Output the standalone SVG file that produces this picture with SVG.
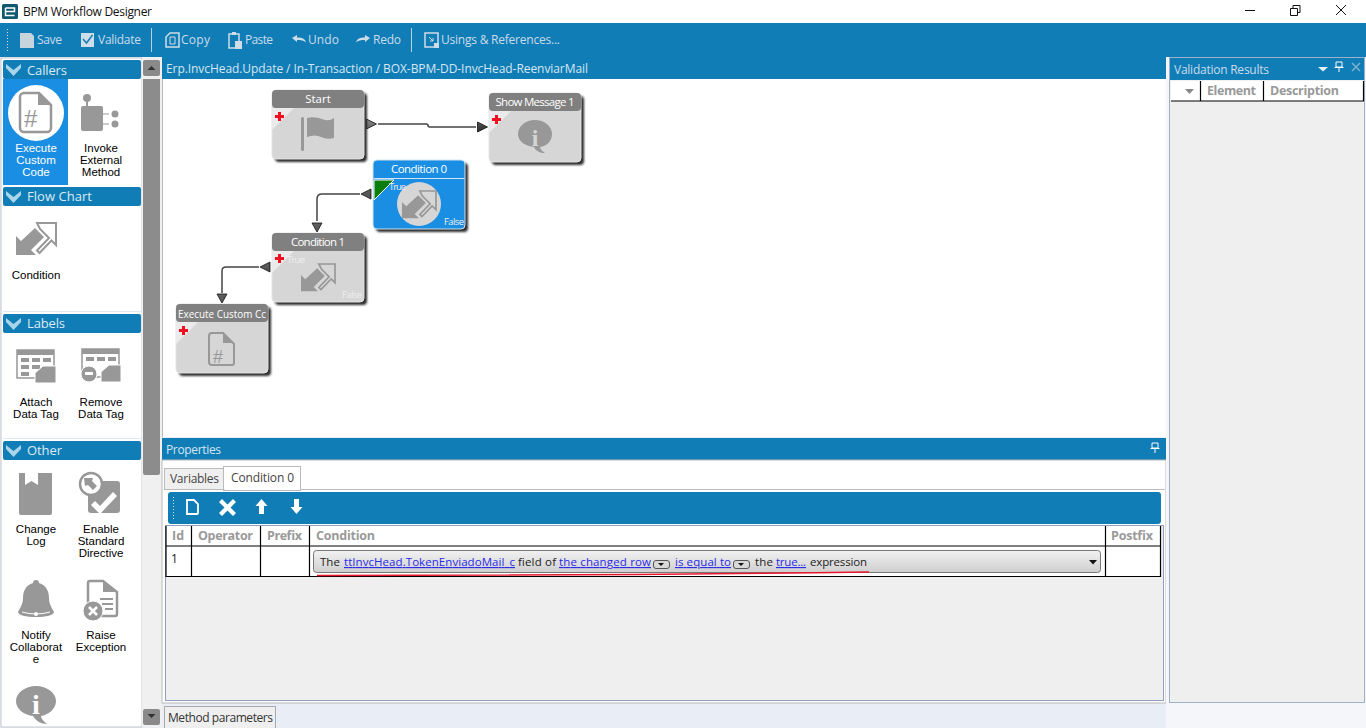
<svg xmlns="http://www.w3.org/2000/svg" width="1366" height="728" viewBox="0 0 1366 728">
<style>
text{font-family:"Open Sans","Noto Sans","Liberation Sans",sans-serif;font-size:12px}
.tb{fill:#c9dcec}
.pal{font-family:"Liberation Sans",Arial,sans-serif;fill:#000;text-anchor:middle;font-size:11.5px}
.sec{fill:#dcebf5;font-size:13px}
.ic{fill:#989898}
.body{fill:#d6d6d6;stroke:#e4e4e4;stroke-width:1}
.shadow{fill:#2e2e2e;filter:url(#soft)}
.hdr{fill:#808080}
.title{fill:#fff;text-anchor:middle;font-size:11.5px}
.tr{fill:#efefef;font-size:9.5px}
.plus{fill:#f01020}
.cut{fill:#ebebeb}
.wire{fill:none;stroke:#444;stroke-width:1.5}
.ah{fill:url(#ahg);stroke:#111;stroke-width:.8}
.gh{fill:#999;font-weight:700;font-size:12.5px}
.gl{stroke:#000;stroke-width:1.2}
.lnk{fill:#2a2ae8;text-decoration:underline;font-size:11.5px}
.blk{fill:#222;font-size:11.5px}
.dd{fill:#d8d8d8;stroke:#555;stroke-width:1}
.hash{font-family:"Liberation Sans",sans-serif;fill:#989898}
.info{font-family:"Liberation Serif",serif;font-weight:700;text-anchor:middle}
</style>
<defs>
<linearGradient id="cmb" x1="0" y1="0" x2="0" y2="1"><stop offset="0" stop-color="#f2f2f2"/><stop offset="1" stop-color="#cfcfcf"/></linearGradient>
<linearGradient id="ahg" x1="0" y1="0" x2="1" y2="1"><stop offset="0" stop-color="#8a8a8a"/><stop offset="1" stop-color="#2a2a2a"/></linearGradient>
<filter id="soft" x="-10%" y="-10%" width="120%" height="120%"><feGaussianBlur stdDeviation="0.8"/></filter>
<g id="cond">
<path d="M0 32v-19l5 5 14-13 9 9-13 13 5 5z" fill="#989898"/>
<path d="M21 0h19v22l-4.500-4.500-12 12.500-2.500-2.500 12-12.500-9-9z" fill="none" stroke="#989898" stroke-width="2"/>
</g>
</defs>
<rect width="1366" height="728" fill="#e9edf6"/>
<g id="titlebar">
<rect width="1366" height="23" fill="#fff"/>
<rect x="2" y="4" width="16" height="15" rx="1.5" fill="#0f5a70"/>
<path d="M5.500 8h9v3.500h-9M5.500 8v7.500h9" fill="none" stroke="#fff" stroke-width="1.500"/>
<text x="23" y="16" fill="#111" textLength="129">BPM Workflow Designer</text>
<path d="M1245 10.500h10" stroke="#111"/>
<path d="M1290.500 8.500h7v7h-7zM1293 8v-2.500h7v7h-2.500" fill="none" stroke="#111"/>
<path d="M1336 5l10 10M1346 5l-10 10" stroke="#111"/>
</g>
<g id="toolbar">
<rect y="23" width="1366" height="34" fill="#117db6"/>
<path d="M7.500 29v22" stroke="#d8e8f2" stroke-dasharray="1 2"/>
<path d="M20 33h11l3 3v12h-14z" fill="#c8d4dc"/>
<rect x="81" y="33" width="13" height="14" fill="#cfdde8"/><path d="M83 39l3.500 4 6-8" fill="none" stroke="#117db6" stroke-width="1.500"/>
<path d="M170 33h9v14h-13v-10z" fill="none" stroke="#cfdde8" stroke-width="1.500"/><path d="M170 37h5v7h-5z" fill="none" stroke="#cfdde8"/>
<path d="M229 34h10v14h-10z" fill="none" stroke="#cfdde8" stroke-width="1.500"/><rect x="235" y="41" width="7" height="8" fill="#cfdde8"/><rect x="232" y="32" width="4" height="3" fill="#cfdde8"/>
<path d="M292 38l5-3v2.500c5 0 8 1 9 5-2-2-5-2.500-9-2.500v2z" fill="#cfdde8"/>
<path d="M370 38l-5-3v2.500c-5 0-8 1-9 5 2-2 5-2.500 9-2.500v2z" fill="#cfdde8"/>
<rect x="425" y="33" width="13" height="14" fill="none" stroke="#cfdde8" stroke-width="1.500"/><rect x="434" y="43" width="5" height="5" fill="#cfdde8"/><path d="M429 37l4 4M433 38v3h-3" stroke="#cfdde8" fill="none"/>
<path d="M151.500 28v24M411.500 28v24" stroke="#b5d2e5"/>
<text class="tb" x="37" y="44" textLength="25">Save</text>
<text class="tb" x="98" y="44" textLength="43">Validate</text>
<text class="tb" x="181" y="44" textLength="29">Copy</text>
<text class="tb" x="245" y="44" textLength="28">Paste</text>
<text class="tb" x="308" y="44" textLength="31">Undo</text>
<text class="tb" x="373" y="44" textLength="28">Redo</text>
<text class="tb" x="441" y="44" textLength="119">Usings &amp; References...</text>
</g>
<g id="palette">
<rect x="1" y="58" width="141" height="669" fill="#fff" stroke="#c4c8d0"/>
<rect x="142" y="58" width="20" height="669" fill="#f0f0f0"/>
<rect x="143" y="60" width="17" height="16" rx="2" fill="#8a8a8a"/><path d="M147.500 70l4-4 4 4z" fill="#333"/>
<rect x="143" y="77" width="17" height="398" rx="2" fill="#8c8c8c"/>
<rect x="143" y="709" width="17" height="16" rx="2" fill="#8a8a8a"/><path d="M147.500 714l4 4 4-4z" fill="#333"/>
<path d="M3 311.500h138M3 438.500h138" stroke="#dde8f0"/>
<rect x="3" y="60" width="138" height="19" rx="2" fill="#117db6"/>
<rect x="3" y="187" width="138" height="19" rx="2" fill="#117db6"/>
<rect x="3" y="314" width="138" height="19" rx="2" fill="#117db6"/>
<rect x="3" y="441" width="138" height="19" rx="2" fill="#117db6"/>
<path d="M6 64l7.500 6 7.500-6v4l-7.500 8-7.500-8z" fill="#a8d4ec"/>
<path d="M6 191l7.500 6 7.500-6v4l-7.500 8-7.500-8z" fill="#a8d4ec"/>
<path d="M6 318l7.500 6 7.500-6v4l-7.500 8-7.500-8z" fill="#a8d4ec"/>
<path d="M6 445l7.500 6 7.500-6v4l-7.500 8-7.500-8z" fill="#a8d4ec"/>
<text class="sec" x="27" y="75" textLength="40">Callers</text>
<text class="sec" x="27" y="201" textLength="65">Flow Chart</text>
<text class="sec" x="27" y="328" textLength="38">Labels</text>
<text class="sec" x="27" y="455" textLength="35">Other</text>
<rect x="3" y="79" width="65" height="106" fill="#1a8ee2"/>
<circle cx="36" cy="113" r="28" fill="#fff"/>
<path d="M24 93h15l12 12v23a4 4 0 0 1-4 4h-23a4 4 0 0 1-4-4v-31a4 4 0 0 1 4-4z" fill="none" stroke="#989898" stroke-width="2.500"/>
<path d="M38 92l13 13h-13z" fill="#989898"/>
<text class="hash" x="24" y="127" style="font-size:24px">#</text>
<text class="pal" style="fill:#fff" x="36" y="152">Execute</text>
<text class="pal" style="fill:#fff" x="36" y="164">Custom</text>
<text class="pal" style="fill:#fff" x="36" y="176">Code</text>
<circle cx="87" cy="98" r="4" class="ic"/><rect x="86" y="100" width="2" height="7" class="ic"/>
<rect x="81" y="106" width="22" height="25" rx="2" class="ic"/>
<path d="M103 114h6M103 124h6" stroke="#989898"/><circle cx="115" cy="114" r="3.500" class="ic"/><circle cx="115" cy="124" r="3.500" class="ic"/>
<text class="pal" x="101" y="152">Invoke</text><text class="pal" x="101" y="164">External</text><text class="pal" x="101" y="176">Method</text>
<use href="#cond" x="16" y="223"/>
<text class="pal" x="36" y="279">Condition</text>
<path d="M17 350h37v5h-37z" class="ic"/><path d="M17 350h37v28h-37z" fill="none" stroke="#989898" stroke-width="1.500"/>
<path d="M21 358h8v4h-8zM32 358h8v4h-8zM43 358h8v4h-8zM21 365h8v4h-8zM32 365h8v4h-8zM21 372h8v4h-8z" class="ic"/>
<path d="M35 383v-10l8-7h13v17z" class="ic" stroke="#fff"/>
<text class="pal" x="36" y="406">Attach</text><text class="pal" x="36" y="418">Data Tag</text>
<path d="M82 349h37v5h-37z" class="ic"/><path d="M82 349h37v28h-37z" fill="none" stroke="#989898" stroke-width="1.500"/>
<path d="M86 357h8v4h-8zM97 357h8v4h-8zM108 357h8v4h-8z" class="ic"/>
<path d="M101 382v-10l8-7h12v17z" class="ic" stroke="#fff"/>
<circle cx="89" cy="374" r="8" class="ic" stroke="#fff"/><rect x="85" y="372" width="8" height="3" fill="#fff"/>
<text class="pal" x="101" y="406">Remove</text><text class="pal" x="101" y="418">Data Tag</text>
<path d="M19 473h33v40a2 2 0 0 1-2 2h-29a2 2 0 0 1-2-2z" class="ic"/><path d="M25 473h13v12l-6.500-4-6.500 4z" fill="#fff"/>
<text class="pal" x="36" y="533">Change</text><text class="pal" x="36" y="545">Log</text>
<rect x="88" y="481" width="32" height="32" rx="3" class="ic"/>
<circle cx="91" cy="484" r="11" fill="#fff" stroke="#989898" stroke-width="2.500"/><path d="M84 478h9l-1 3 5 5-4 4-5-5-3 1z" class="ic"/>
<path d="M95 501l5 5 13-14 4 4-17 18-9-9z" fill="#fff"/>
<text class="pal" x="101" y="533">Enable</text><text class="pal" x="101" y="545">Standard</text><text class="pal" x="101" y="557">Directive</text>
<path d="M36 580c2 0 3 1 3 3 7 2 10 8 10 15 0 6 3 10 5 14 0 3-8 5-18 5s-18-2-18-5c2-4 5-8 5-14 0-7 3-13 10-15 0-2 1-3 3-3z" class="ic"/>
<path d="M22 612q14 4 28 0" stroke="#fff" fill="none"/><circle cx="36" cy="614" r="2" fill="#fff"/>
<text class="pal" x="36" y="639">Notify</text><text class="pal" x="36" y="651">Collaborat</text><text class="pal" x="36" y="663">e</text>
<path d="M90 581h13l14 11v22a2 2 0 0 1-2 2h-25a2 2 0 0 1-2-2v-31a2 2 0 0 1 2-2z" fill="none" stroke="#989898" stroke-width="2.500"/>
<path d="M103 580l14 12h-14zM100 598h13v2h-13zM102 603h11v2h-11zM105 608h8v2h-8z" class="ic"/>
<circle cx="93" cy="611" r="10" class="ic" stroke="#fff"/><path d="M89 607l8 8M97 607l-8 8" stroke="#fff" stroke-width="2.500"/>
<text class="pal" x="101" y="639">Raise</text><text class="pal" x="101" y="651">Exception</text>
<path d="M36 686c11 0 20 7 20 15 0 8-8 14-15 15 0 2 2 5 6 8-6 0-11-3-14-8-9-1-17-7-17-15 0-8 9-15 20-15z" class="ic"/>
<text class="info" x="36" y="714" fill="#fff" style="font-size:28px">i</text>
</g>
<g id="canvas">
<rect x="142" y="57" width="1024" height="22" fill="#117db6"/>
<rect x="142" y="57" width="20" height="22" fill="#f0f0f0"/>
<rect x="143" y="60" width="17" height="16" rx="2" fill="#8a8a8a"/><path d="M147.500 70l4-4 4 4z" fill="#333"/>
<text x="166" y="73" fill="#d6e6f2" textLength="422">Erp.InvcHead.Update / In-Transaction / BOX-BPM-DD-InvcHead-ReenviarMail</text>
<rect x="162" y="79" width="1004" height="358" fill="#fff"/>
<path d="M162.500 79v358" stroke="#bbb"/>
</g>
<g id="connectors">
<path class="wire" d="M378 124h48q2 0 2 1.500 0 1.500 2 1.500h46"/>
<path class="ah" d="M366.500 119l10 5-10 5zM477.500 122l10 5-10 5z"/>
<path class="wire" d="M360 194h-38q-5 0-5 5v22"/>
<path class="ah" d="M371 189l-10 5 10 5zM312 223h10l-5 9z"/>
<path class="wire" d="M259 267h-33q-4 0-4 4v22"/>
<path class="ah" d="M270 262l-10 5 10 5zM217 294h10l-5 9z"/>
</g>
<g id="start">
<rect x="275" y="93" width="92" height="69" rx="4" class="shadow"/>
<rect x="272" y="90" width="92" height="69" rx="4" class="body"/>
<path d="M272 94a4 4 0 0 1 4-4h84a4 4 0 0 1 4 4v10a4 4 0 0 1-4 4h-84a4 4 0 0 1-4-4z" class="hdr"/>
<path d="M272 108h22l-22 22z" class="cut"/>
<path d="M278 112h3v3h3v3h-3v3h-3v-3h-3v-3h3z" class="plus"/>
<rect x="301" y="117" width="3" height="34" rx="1.500" class="ic"/>
<path d="M307 118q8-2 15 1t12-1v20q-7 2-13-1t-14 0z" class="ic"/>
<text class="title" x="318" y="103">Start</text>
</g>
<g id="show-message-1">
<rect x="492" y="96" width="92" height="69" rx="4" class="shadow"/>
<rect x="489" y="93" width="92" height="69" rx="4" class="body"/>
<path d="M489 97a4 4 0 0 1 4-4h84a4 4 0 0 1 4 4v10a4 4 0 0 1-4 4h-84a4 4 0 0 1-4-4z" class="hdr"/>
<path d="M489 111h22l-22 22z" class="cut"/>
<path d="M495 115h3v3h3v3h-3v3h-3v-3h-3v-3h3z" class="plus"/>
<path d="M535 120c9 0 17 6 17 14s-6 12-12 13c0 2 2 4 5 6-5 0-9-2-11-6-8-1-16-5-16-13s8-14 17-14z" class="ic"/>
<text class="info" x="535" y="146" fill="#d6d6d6" style="font-size:24px">i</text>
<text class="title" x="535" y="106" textLength="79">Show Message 1</text>
</g>
<g id="condition-0">
<rect x="376" y="163" width="92" height="69" rx="4" class="shadow"/>
<rect x="373" y="160" width="92" height="69" rx="4" fill="#1a8ee2" stroke="#cfe3f2"/>
<path d="M373.500 178.500h91" stroke="#cfe3f2"/>
<path d="M374 180h20l-20 20z" fill="#0b7d0b" stroke="#fff"/>
<circle cx="419" cy="204" r="22" fill="#d6d6d6"/>
<use href="#cond" transform="translate(402 191) scale(.85)"/>
<text class="title" x="419" y="173" textLength="56">Condition 0</text>
<text class="tr" x="389" y="190" textLength="17">True</text>
<text class="tr" x="444" y="225" textLength="20">False</text>
</g>
<g id="condition-1">
<rect x="275" y="236" width="92" height="69" rx="4" class="shadow"/>
<rect x="272" y="233" width="92" height="69" rx="4" class="body"/>
<path d="M272 237a4 4 0 0 1 4-4h84a4 4 0 0 1 4 4v10a4 4 0 0 1-4 4h-84a4 4 0 0 1-4-4z" class="hdr"/>
<path d="M272 251h22l-22 22z" class="cut"/>
<path d="M278 254h3v3h3v3h-3v3h-3v-3h-3v-3h3z" class="plus"/>
<use href="#cond" transform="translate(301 264) scale(.85)"/>
<text class="title" x="318" y="246" textLength="54">Condition 1</text>
<text class="tr" x="287" y="263" textLength="18">True</text>
<text class="tr" x="342" y="298" textLength="20">False</text>
</g>
<g id="execute-custom-code">
<rect x="179" y="307" width="92" height="69" rx="4" class="shadow"/>
<rect x="176" y="304" width="92" height="69" rx="4" class="body"/>
<path d="M176 308a4 4 0 0 1 4-4h84a4 4 0 0 1 4 4v10a4 4 0 0 1-4 4h-84a4 4 0 0 1-4-4z" class="hdr"/>
<path d="M176 322h22l-22 22z" class="cut"/>
<path d="M182 326h3v3h3v3h-3v3h-3v-3h-3v-3h3z" class="plus"/>
<path d="M212 333h11l11 11v19a2 2 0 0 1-2 2h-20a3 3 0 0 1-3-3v-26a3 3 0 0 1 3-3z" fill="none" stroke="#989898" stroke-width="2"/>
<path d="M223 332l11 11h-11z" class="ic"/>
<text class="hash" x="213" y="363" style="font-size:18px">#</text>
<text x="178" y="318" fill="#fff" textLength="88" lengthAdjust="spacingAndGlyphs" style="font-size:11.5px">Execute Custom Cc</text>
</g>
<g id="properties">
<rect x="162" y="438" width="1004" height="22" fill="#117db6"/>
<text x="166" y="454" fill="#d6e6f2" textLength="55">Properties</text>
<path d="M1152 443h6v5h-6zM1150.500 448.500h9M1155 449v4" stroke="#fff" fill="none"/>
<rect x="162" y="460" width="1004" height="243" fill="#fff" stroke="#bbb"/>
<rect x="164.500" y="468.500" width="59" height="21" fill="#efefef" stroke="#bbb"/>
<rect x="223.500" y="466.500" width="77" height="24" fill="#fff" stroke="#bbb"/>
<path d="M164.500 489.500h60M300.500 489.500h864" stroke="#bbb"/>
<text x="170" y="483" fill="#444" textLength="49">Variables</text>
<text x="231" y="482" fill="#444" textLength="63">Condition 0</text>
<rect x="168" y="492" width="993" height="32" rx="3" fill="#117db6"/>
<path d="M173.500 497v22" stroke="#d8e8f2" stroke-dasharray="1 2"/>
<path d="M187 500h7l4 4v9a1 1 0 0 1-1 1h-10z" fill="none" stroke="#fff" stroke-width="1.800"/>
<path d="M219 502l3-3 5.500 5.500 5.500-5.500 3 3-5.500 5.500 5.500 5.500-3 3-5.500-5.500-5.500 5.500-3-3 5.500-5.500z" fill="#fff"/>
<path d="M261.500 499l6 7h-3.500v8h-5v-8h-3.500z" fill="#fff"/>
<path d="M294 499h5v8h3.500l-6 7-6-7h3.500z" fill="#fff"/>
<rect x="165.500" y="525.500" width="998" height="175" fill="#efefef" stroke="#8fa2bd"/>
<rect x="166" y="526" width="995" height="51" fill="#fff"/>
<path class="gl" d="M166 546h995M166 576.500h995M191.500 526v51M260.500 526v51M309.500 526v51M1105.500 526v51M1160.500 526v51M166 526v51"/>
<text class="gh" x="172" y="540">Id</text>
<text class="gh" x="198" y="540" textLength="55">Operator</text>
<text class="gh" x="267" y="540" textLength="35">Prefix</text>
<text class="gh" x="316" y="540" textLength="59">Condition</text>
<text class="gh" x="1111" y="540" textLength="42">Postfix</text>
<text x="171" y="563" fill="#222">1</text>
<rect x="313.500" y="550.500" width="787" height="22" rx="3" fill="url(#cmb)" stroke="#777"/>
<text class="blk" x="320" y="566">The</text>
<text class="lnk" x="344" y="566" textLength="171">ttInvcHead.TokenEnviadoMail_c</text>
<text class="blk" x="518" y="566" textLength="38">field of</text>
<text class="lnk" x="559" y="566" textLength="92">the changed row</text>
<rect x="653.500" y="560.500" width="16" height="8" rx="2.500" class="dd"/><path d="M658 563h6l-3 3z" fill="#111"/>
<text class="lnk" x="675" y="566" textLength="56">is equal to</text>
<rect x="733.500" y="560.500" width="16" height="8" rx="2.500" class="dd"/><path d="M738 563h6l-3 3z" fill="#111"/>
<text class="blk" x="755" y="566" textLength="18">the</text>
<text class="lnk" x="776" y="566" textLength="30">true...</text>
<text class="blk" x="810" y="566" textLength="57">expression</text>
<path d="M1089 560h8l-4 4.500z" fill="#111"/>
<path d="M317 575.500q276 0 552-3.500" fill="none" stroke="#e8182c" stroke-width="1.500"/>
</g>
<g id="validation">
<rect x="1166" y="57" width="200" height="671" fill="#f4f6fa"/>
<rect x="1169.500" y="57.500" width="195" height="645" fill="#efefef" stroke="#9db2c9"/>
<rect x="1170" y="58" width="194" height="22" fill="#117db6"/>
<text x="1174" y="74" fill="#c9dcec" textLength="95">Validation Results</text>
<path d="M1318 67h10l-5 4.500z" fill="#e6f0f7"/>
<path d="M1336 62h6v5h-6zM1334.500 67.500h9M1339 68v4" stroke="#fff" fill="none"/>
<path d="M1352 63l8 8M1360 63l-8 8" stroke="#7fb0d0" stroke-width="1.500"/>
<rect x="1171" y="81" width="193" height="20" fill="#fff"/>
<path class="gl" d="M1171 101h193M1200.500 81v20M1263.500 81v20M1363.500 81v20"/>
<path d="M1185 89h9l-4.500 5z" fill="#888"/>
<text class="gh" x="1207" y="95" textLength="49">Element</text>
<text class="gh" x="1270" y="95" textLength="69">Description</text>
</g>
<g id="method-tab">
<rect x="164.500" y="706.500" width="111" height="24" fill="#efefef" stroke="#aaa"/>
<text x="168" y="722" fill="#333" textLength="105">Method parameters</text>
</g>
</svg>
